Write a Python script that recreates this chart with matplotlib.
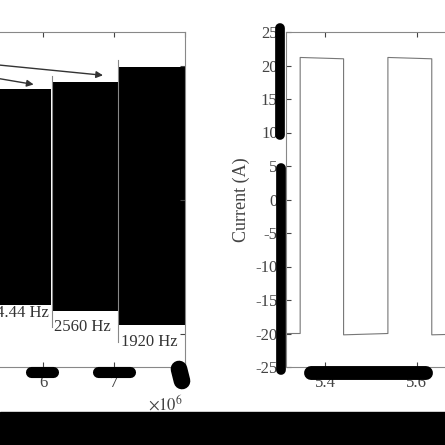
import numpy as np
import matplotlib.pyplot as plt
from matplotlib.lines import Line2D
from matplotlib.patches import Rectangle

plt.rcParams['font.family'] = ['Liberation Serif', 'DejaVu Serif']
plt.rcParams['font.size'] = 10
plt.rcParams['axes.unicode_minus'] = False
plt.rcParams['mathtext.fontset'] = 'stix'

# left panel: envelope of three frequency segments (x in 1e6 samples)
seg_start = [5.0, 6.13, 7.07]
seg_end = [6.11, 7.05, 8.0]
seg_top = [16.5, 17.5, 19.8]
seg_bot = [-15.7, -16.6, -18.7]
seg_labels = ['4.44 Hz', '2560 Hz', '1920 Hz']

# right panel: zoomed current square wave
wave_t = [5.314, 5.345, 5.345, 5.44, 5.44, 5.537, 5.537, 5.633, 5.633, 5.75]
wave_i = [-20.0, -20.0, 21.2, 21.0, -20.2, -20.0, 21.2, 21.0, -20.2, -20.0]

W = H = 445.0
fig = plt.figure(figsize=(4.45, 4.45), dpi=100)


def box(x0, y0, x1, y1):
    return [x0 / W, 1 - y1 / H, (x1 - x0) / W, (y1 - y0) / H]


grey = '#888888'
ax1 = fig.add_axes(box(-200, 32, 185, 367))
for s, e, t, b in zip(seg_start, seg_end, seg_top, seg_bot):
    ax1.fill_between([s, e], [b, b], [t, t], color='black', lw=0)
for s, t, b in zip(seg_start[1:], seg_top[1:], seg_bot[1:]):
    ax1.plot([s - 0.01, s - 0.01], [b - 2.5, t + 1], color=grey, lw=0.8)
ax1.set_xlim(2.56, 8.0)
ax1.set_ylim(-25, 25)
ax1.set_xticks([6, 7, 8])
ax1.set_yticks([-20, 0, 20])
ax1.yaxis.tick_right()
ax1.tick_params(direction='in', top=True, colors='#444444', labelsize=12, pad=6)
ax1.set_yticklabels([])
for sp in ax1.spines.values():
    sp.set_color(grey)
ax1.text(6.08, -17.6, seg_labels[0], fontsize=12, color='#333333', ha='right')
ax1.text(6.15, -19.6, seg_labels[1], fontsize=12, color='#333333')
ax1.text(7.1, -21.8, seg_labels[2], fontsize=12, color='#333333')
ax1.annotate('', xy=(5.9, 17.1), xytext=(4.0, 20.5),
             arrowprops=dict(arrowstyle='-|>', color='#333333', lw=1))
ax1.annotate('', xy=(6.88, 18.5), xytext=(4.0, 21.5),
             arrowprops=dict(arrowstyle='-|>', color='#333333', lw=1))
fig.text(148 / W, 1 - 410 / H, r'$\times10^6$', fontsize=12, color='#444444')

ax2 = fig.add_axes(box(286, 32, 700, 367))
ax2.plot(wave_t, wave_i, color='#777777', lw=0.8)
ax2.set_xlim(5.314, 6.22)
ax2.set_ylim(-25, 25)
ax2.set_xticks([5.4, 5.6, 5.8, 6.0])
ax2.set_xticklabels(['5.4', '5.6', '5.8', '6.0'])
ax2.set_yticks(range(-25, 26, 5))
ax2.tick_params(direction='in', top=True, colors='#444444', labelsize=12, pad=6)
ax2.set_ylabel('Current (A)', fontsize=13, color='#444444')
for sp in ax2.spines.values():
    sp.set_color(grey)

# redaction marks
blobs = [((31, 372), (53, 372), 8), ((98, 372), (130, 372), 8),
         ((179, 369), (182, 381), 12), ((280, 28), (280, 135), 7),
         ((281, 168), (281, 370), 7), ((311, 373), (426, 373), 10)]
for (xa, ya), (xb, yb), w in blobs:
    fig.add_artist(Line2D([xa / W, xb / W], [1 - ya / H, 1 - yb / H],
                          color='black', lw=w, solid_capstyle='round'))
fig.add_artist(Rectangle((0, 0), 1, 33 / H, color='black',
                         transform=fig.transFigure))

fig.savefig('out.png', dpi=100)
